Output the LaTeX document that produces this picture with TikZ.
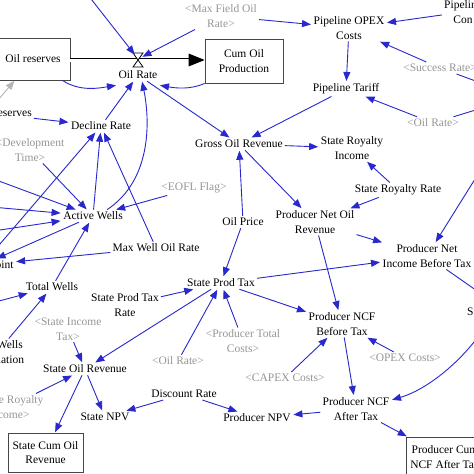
\documentclass[tikz,border=0pt]{standalone}
\usepackage{fontspec}
\setmainfont{Liberation Serif}
\usetikzlibrary{arrows.meta}
\definecolor{arrblue}{RGB}{40,40,205}
\definecolor{shadowtxt}{RGB}{150,150,150}
\definecolor{boxline}{RGB}{70,70,70}
\begin{document}
\begin{tikzpicture}[x=1pt,y=-1pt,
  every node/.style={font=\fontsize{11.5}{14.5}\selectfont, inner sep=2pt, align=center},
  shd/.style={text=shadowtxt},
  lvl/.style={draw=boxline, line width=0.8pt, inner sep=3pt},
  arr/.style={draw=arrblue, line width=0.9pt, -{Triangle[length=9pt,width=7pt]}, shorten >=0.5pt},
  garr/.style={draw=shadowtxt!70, line width=0.9pt, -{Triangle[length=9pt,width=7pt]}, shorten >=0.5pt},
  pipe/.style={draw=black, double=white, double distance=3pt, line width=0.7pt}
]
\useasboundingbox (0,0) rectangle (474,474);
\fill[white] (0,0) rectangle (474,474);

% stocks
\node[lvl, minimum width=74pt, minimum height=42pt] (res) at (33,59) {Oil reserves};
\node[lvl, minimum width=78pt, minimum height=44pt] (cum) at (244,61) {Cum Oil\\Production};
\node[lvl, minimum width=75pt, minimum height=39pt] (scor) at (45.5,452.5) {State Cum Oil\\Revenue};
\node[lvl, minimum width=78pt, minimum height=40pt] (pcum) at (445,457) {Producer Cum\\NCF After Tax};

% flow
\coordinate (valve) at (138,60);
\coordinate (vtl) at (135,55);
\coordinate (vtr) at (142,57);
\draw[pipe] (valve -| res.east) -- ([xshift=-14pt]valve -| cum.west);
\fill[black] ([xshift=-16pt,yshift=6.5pt]valve -| cum.west) -- (valve -| cum.west) -- ([xshift=-16pt,yshift=-6.5pt]valve -| cum.west) -- cycle;
\draw[black, line width=0.8pt, fill=white] (133,53) -- (143,53) -- (133,67) -- (143,67) -- cycle;
\node (oilrate) at (138,75) {Oil Rate};

% variables
\node[shd] (maxfield) at (221,16) {<Max Field Oil\\Rate>};
\node (opex) at (349,28) {Pipeline OPEX\\Costs};
\node (pcon) at (463,12) {Pipeline\\Con};
\node[shd] (success) at (440,68) {<Success Rate>};
\node (tariff) at (346,89) {Pipeline Tariff};
\node[shd] (oilrate2) at (433,123) {<Oil Rate>};
\node (gross) at (239,144) {Gross Oil Revenue};
\node (royinc) at (352,148) {State Royalty\\Income};
\node (royrate) at (398,190) {State Royalty Rate};
\node (pnor) at (315,222) {Producer Net Oil\\Revenue};
\node (oilprice) at (243,222) {Oil Price};
\node (pnibt) at (427,256) {Producer Net\\Income Before Tax};
\node[anchor=west] (sit) at (465,312) {State Income Tax};
\node (spt) at (221,283) {State Prod Tax};
\node (sptr) at (125,305) {State Prod Tax\\Rate};
\node[shd] (oilrate3) at (178,361) {<Oil Rate>};
\node[shd] (ptc) at (243,341) {<Producer Total\\Costs>};
\node (ncfb) at (342,324) {Producer NCF\\Before Tax};
\node[shd] (opexc) at (405,358) {<OPEX Costs>};
\node[shd] (capex) at (285,378) {<CAPEX Costs>};
\node (ncfa) at (356,409) {Producer NCF\\After Tax};
\node (pnpv) at (257,418) {Producer NPV};
\node (disc) at (184,394) {Discount Rate};
\node (snpv) at (105,417) {State NPV};
\node (sor) at (85,369) {State Oil Revenue};
\node[shd] (sitax) at (68,329) {<State Income\\Tax>};
\node[shd] (sroy) at (9,407) {<State Royalty\\Income>};
\node (wcalc) at (-2.5,352) {New Wells\\Calculation};
\node (twells) at (52,287) {Total Wells};
\node (aw) at (93,216) {Active Wells};
\node (point) at (-18,265) {Decline Point};
\node (maxwell) at (156,248) {Max Well Oil Rate};
\node[shd] (eofl) at (194,188) {<EOFL Flag>};
\node (decl) at (101,126) {Decline Rate};
\node[shd] (devt) at (30,150) {<Development\\Time>};
\node (reserves) at (-13,113) {Initial Oil Reserves};

% off-picture ends
\coordinate (topsrc) at (84,-10);
\coordinate (L1) at (-20,174);
\coordinate (L2) at (-20,206);
\coordinate (L3) at (-20,233);
\coordinate (L4) at (-20,306);
\coordinate (R1) at (492,87);
\coordinate (R2) at (492,105);
\coordinate (R3) at (485,163);

% connectors
\draw[arr] (topsrc) -- (vtl);
\draw[arr] (maxfield) -- (vtr);
\draw[arr] (maxfield) -- (opex);
\draw[arr] (pcon) -- (opex);
\draw[arr] (success) -- (opex);
\draw[arr] (success) -- (R1);
\draw[arr] (opex) -- (tariff);
\draw[arr] (oilrate2) -- (tariff);
\draw[arr] (oilrate2) -- (R2);
\draw[arr] (tariff) -- (gross);
\draw[arr] (oilrate) -- (gross);
\draw[arr] (gross) -- (royinc);
\draw[arr] (royrate) -- (royinc);
\draw[arr] (royrate) -- (pnor);
\draw[arr] (gross) -- (pnor);
\draw[arr] (oilprice) -- (gross);
\draw[arr] (oilprice) -- (spt);
\draw[arr] (pnor) -- (pnibt);
\draw[arr] (R3) -- (pnibt);
\draw[arr] (spt) -- (pnibt);
\draw[arr] (pnibt) -- (sit);
\draw[arr] ([xshift=25pt]sit.south west) .. controls (472,352) and (432,388) .. ([yshift=9pt]ncfa.east);
\draw[arr] (sptr) -- (spt);
\draw[arr] (spt) -- (sor);
\draw[arr] (oilrate3) -- (spt);
\draw[arr] (ptc) -- (spt);
\draw[arr] (spt) -- (ncfb);
\draw[arr] (pnor) -- (ncfb);
\draw[arr] (ncfb) -- (ncfa);
\draw[arr] (opexc) -- (ncfb);
\draw[arr] (capex) -- (ncfb);
\draw[arr] (ncfa) -- (pnpv);
\draw[arr] (disc) -- (pnpv);
\draw[arr] (disc) -- (snpv);
\draw[arr] (sor) -- (snpv);
\draw[arr] (sor) -- (scor);
\draw[arr] (sitax) -- (sor);
\draw[arr] (sroy) -- (sor);
\draw[arr] (ncfa) -- (pcum);
\draw[arr] (wcalc) -- (twells);
\draw[arr] (twells) -- (aw);
\draw[arr] (L4) -- (twells);
\draw[arr] (aw) -- (point);
\draw[arr] (maxwell) -- (point);
\draw[arr] (point) -- (decl);
\draw[arr] (maxwell) -- (decl);
\draw[arr] (eofl) -- (aw);
\draw[arr] (decl) -- (oilrate);
\draw[arr] (aw) -- (decl);
\draw[arr] ([xshift=14pt]aw.north) .. controls (152,180) and (150,120) .. ([xshift=4pt]oilrate.south);
\draw[arr] (devt) -- (aw);
\draw[arr] (reserves) -- (decl);
\draw[arr] (L1) -- (aw);
\draw[arr] (L2) -- (aw);
\draw[arr] (L3) -- (aw);
\draw[garr] (reserves) -- (res);
\draw[arr] ([xshift=-8pt]res.south east) .. controls (80,92) and (100,88) .. ([yshift=-4pt]oilrate.south west);
\draw[arr] (cum.south west) .. controls (190,90) and (175,88) .. ([yshift=-4pt]oilrate.south east);
\end{tikzpicture}
\end{document}
